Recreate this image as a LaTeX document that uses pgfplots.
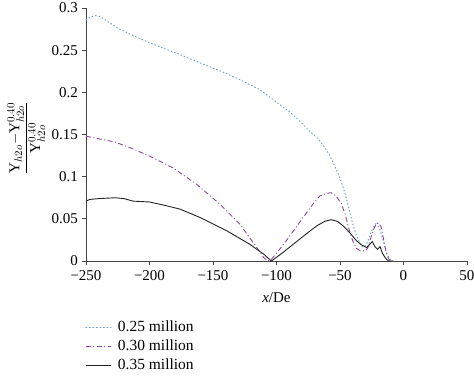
\documentclass[border=0pt]{standalone}
\usepackage{amsmath}
\usepackage{fontspec}
\setmainfont{Liberation Serif}
\usepackage{pgfplots}
\pgfplotsset{compat=1.18}
\definecolor{dotblue}{RGB}{110,162,200}
\definecolor{dashpurple}{RGB}{135,75,150}
\definecolor{solidblack}{RGB}{35,35,35}
\definecolor{axgray}{RGB}{70,70,70}
\begin{document}
\fontsize{15}{18}\selectfont
\begin{tikzpicture}
\useasboundingbox (-86pt,-115pt) rectangle (388pt,261pt);
\begin{axis}[
  at={(0pt,0pt)}, anchor=south west,
  scale only axis, width=381pt, height=253pt,
  xmin=-250, xmax=50, ymin=0, ymax=0.3,
  axis lines=left, axis line style={axgray, line width=0.8pt, -},
  tick style={axgray, line width=0.8pt},
  tick align=outside, major tick length=4pt,
  xtick={-250,-200,-150,-100,-50,0,50},
  xticklabels={−250,−200,−150,−100,−50,0,50},
  ytick={0,0.05,0.1,0.15,0.2,0.25,0.3},
  yticklabels={0,0.05,0.1,0.15,0.2,0.25,0.3},
  ticklabel style={font=\fontsize{15}{18}\selectfont},
  xticklabel style={yshift=0pt},
  yticklabel style={xshift=1pt},
  xlabel={\textit{x}/De},
  xlabel style={at={(axis description cs:0.5,-0.146)}, anchor=center, font=\fontsize{15}{18}\selectfont},
  ylabel={$\dfrac{\mathrm{Y}_{h2o}\mathrm{-}\mathrm{Y}^{0.40}_{h2o}}{\mathrm{Y}^{0.40}_{h2o}}$},
  ylabel style={at={(axis description cs:-0.157,0.486)}, anchor=center, rotate=0, font=\fontsize{15}{18}\selectfont},
  legend style={at={(axis description cs:-0.010,-0.222)}, anchor=north west, draw=none, fill=none,
    font=\fontsize{15.5}{18}\selectfont, row sep=3pt,
    nodes={inner sep=1.5pt},
    /tikz/every odd column/.append style={column sep=5pt}},
  legend cell align=left,
  legend image code/.code={\draw[#1] (0pt,0pt) -- (25pt,0pt);},
  clip=false,
]
\addplot[dotblue, line width=1pt, dash pattern=on 0.9pt off 2.6pt, line cap=round] coordinates {
(-250,0.286) (-247,0.289) (-243,0.291) (-239,0.290) (-235,0.286) (-231,0.282) (-225,0.276) (-218,0.271) (-205,0.262) (-192,0.254) (-178,0.246) (-165,0.238) (-152,0.230) (-139,0.222) (-126,0.213) (-113,0.203) (-105,0.194) (-97,0.185) (-89,0.176) (-81,0.165) (-74,0.154) (-68,0.146) (-63,0.137) (-58,0.125) (-54,0.112) (-50,0.098) (-46,0.080) (-43,0.062) (-40,0.044) (-37,0.030) (-34,0.020) (-31.5,0.016) (-29,0.020) (-27,0.028) (-24,0.040) (-21,0.046) (-18.5,0.037) (-16,0.024) (-14,0.013) (-12,0.005) (-10,0.001) (-8,0)
};
\addlegendentry{0.25 million}
\addplot[dashpurple, line width=0.9pt, dash pattern=on 5pt off 2.5pt on 1pt off 2.5pt] coordinates {
(-250,0.148) (-240,0.145) (-227,0.141) (-213,0.133) (-198,0.123) (-181,0.110) (-163,0.091) (-145,0.068) (-129,0.044) (-116,0.017) (-110,0.004) (-107,0) (-104,0.002) (-95,0.0186) (-85,0.039) (-75,0.060) (-70,0.070) (-66,0.077) (-61,0.080) (-57,0.081) (-53,0.077) (-49,0.068) (-46,0.056) (-43,0.038) (-40,0.024) (-37,0.015) (-34,0.012) (-30,0.012) (-28,0.016) (-26,0.026) (-24,0.036) (-21.5,0.044) (-19.5,0.045) (-17.5,0.040) (-15.5,0.024) (-13.5,0.009) (-11.5,0.002) (-10,0)
};
\addlegendentry{0.30 million}
\addplot[solidblack, line width=0.9pt] coordinates {
(-250,0.071) (-247,0.073) (-240,0.074) (-227,0.075) (-220,0.074) (-213,0.071) (-200,0.070) (-188,0.066) (-176,0.0615) (-160,0.0515) (-139,0.0357) (-121,0.0198) (-110,0.008) (-104,0) (-95,0.010) (-85,0.022) (-75,0.034) (-68,0.042) (-62,0.047) (-57,0.049) (-52,0.047) (-47,0.041) (-42,0.033) (-37,0.024) (-33,0.019) (-29,0.016) (-26.5,0.020) (-24.5,0.023) (-22.5,0.017) (-20.5,0.014) (-18.5,0.017) (-16.5,0.009) (-14,0.003) (-12,0) (-8,0)
};
\addlegendentry{0.35 million}
\end{axis}
\end{tikzpicture}
\end{document}
